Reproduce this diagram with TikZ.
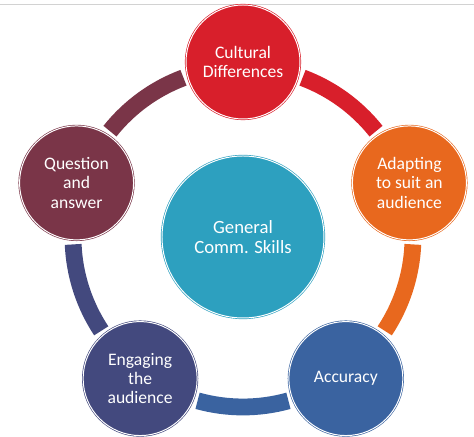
\documentclass[tikz,border=0pt]{standalone}
\usepackage{fontspec}
\setmainfont{Carlito}
\usetikzlibrary{positioning}

\definecolor{cultred}{RGB}{216,31,43}
\definecolor{adaptorange}{RGB}{232,104,30}
\definecolor{accblue}{RGB}{58,99,160}
\definecolor{engnavy}{RGB}{67,73,126}
\definecolor{questmaroon}{RGB}{122,53,72}
\definecolor{hubteal}{RGB}{45,160,191}

\begin{document}
\begin{tikzpicture}[
  bubble/.style={circle, minimum size=2.85cm, inner sep=0pt, align=center,
    text=white, fill=#1, draw=#1, double=white, double distance=0.7pt,
    line width=0.45pt, font=\fontsize{12.5}{13.6}\selectfont},
  hub/.style={bubble=hubteal, minimum size=4.05cm,
    font=\fontsize{13.3}{14.8}\selectfont},
  band/.style={draw=#1, line width=0.42cm}
]
  \useasboundingbox (-6.075,-5) rectangle (5.775,5.925);

  % Screen edge at the top
  \draw[gray!35, thin] (-6.075,5.825) -- (5.775,5.825);

  % Centre
  \node[hub] (gen) at (0,0) {General\\Comm. Skills};

  % Outer bubbles
  \node[bubble=cultred]     (cult)   at (90:4.375)   {Cultural\\Differences};
  \node[bubble=adaptorange] (adapt)  at (18:4.375)   {Adapting\\to suit an\\audience};
  \node[bubble=accblue]     (acc)    at (-54:4.375)  {Accuracy};
  \node[bubble=engnavy]     (engage) at (-126:4.375) {Engaging\\the\\audience};
  \node[bubble=questmaroon] (quest)  at (162:4.375)  {Question\\and\\answer};

  % Ring pieces between the bubbles
  \foreach \a/\col in {90/cultred, 18/adaptorange, -54/accblue, -126/engnavy, 162/questmaroon} {
    \draw[band=\col] ([shift={(\a-20.5:4.25)}]gen.center)
      arc[start angle=\a-20.5, end angle=\a-51.5, radius=4.25];
  }
\end{tikzpicture}
\end{document}
